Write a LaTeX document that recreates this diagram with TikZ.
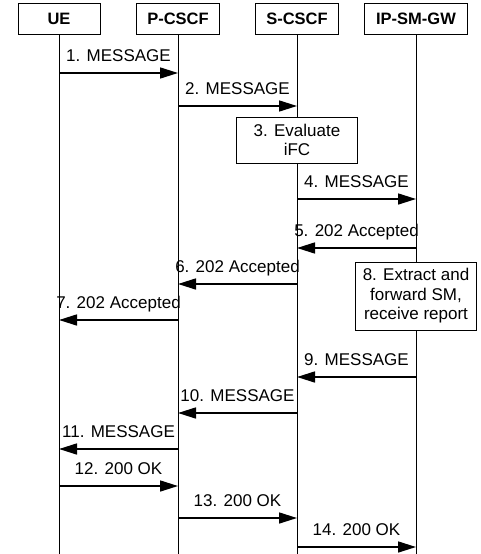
\documentclass[tikz,border=0pt]{standalone}
\usepackage{fontspec}
\setmainfont{Liberation Sans}
\usetikzlibrary{arrows.meta}
\tikzset{every picture/.style={line width=0.75pt}}
\tikzset{
	entity/.style={draw, minimum height=31pt, inner sep=0pt, font=\bfseries\fontsize{16.5}{19}\selectfont},
	msg/.style={-{Triangle[length=18pt,width=11pt]}, line width=1.6pt},
	lbl/.style={anchor=base, inner sep=0pt, yshift=12pt, font=\fontsize{17}{19.5}\selectfont},
	action/.style={draw, fill=white, align=center, minimum width=121pt, inner sep=0pt, font=\fontsize{17}{19.5}\selectfont}}

\begin{document}
\begin{tikzpicture}[x=1pt,y=1pt,yscale=-1,xscale=1]
	\useasboundingbox (0,0) rectangle (480,554);

	% Entities
	\node[entity, minimum width=82pt] (ue) at (59,18.5) {UE};
	\node[entity, minimum width=83pt] (pcscf) at (178,18.5) {P-CSCF};
	\node[entity, minimum width=83pt] (scscf) at (297,18.5) {S-CSCF};
	\node[entity, minimum width=103pt] (ipsmgw) at (416,18.5) {IP-SM-GW};

	% Lifelines
	\draw (ue.south) -- (ue.south |- 0,554);
	\draw (pcscf.south) -- (pcscf.south |- 0,554);
	\draw (scscf.south) -- (scscf.south |- 0,554);
	\draw (ipsmgw.south) -- (ipsmgw.south |- 0,554);

	% Actions
	\node[action, minimum height=46pt] (evalifc) at (297,140) {3. Evaluate\\iFC};
	\node[action, minimum height=68pt] (extract) at (416,296) {8. Extract and\\forward SM,\\receive report};

	% Messages
	\draw[msg] (ue |- 0,73) -- node[lbl] {1. MESSAGE} (pcscf |- 0,73);
	\draw[msg] (pcscf |- 0,106) -- node[lbl] {2. MESSAGE} (scscf |- 0,106);
	\draw[msg] (scscf |- 0,199) -- node[lbl] {4. MESSAGE} (ipsmgw |- 0,199);
	\draw[msg] (ipsmgw |- 0,248) -- node[lbl] {5. 202 Accepted} (scscf |- 0,248);
	\draw[msg] (scscf |- 0,284) -- node[lbl] {6. 202 Accepted} (pcscf |- 0,284);
	\draw[msg] (pcscf |- 0,320) -- node[lbl] {7. 202 Accepted} (ue |- 0,320);
	\draw[msg] (ipsmgw |- 0,377) -- node[lbl] {9. MESSAGE} (scscf |- 0,377);
	\draw[msg] (scscf |- 0,413) -- node[lbl] {10. MESSAGE} (pcscf |- 0,413);
	\draw[msg] (pcscf |- 0,449) -- node[lbl] {11. MESSAGE} (ue |- 0,449);
	\draw[msg] (ue |- 0,486) -- node[lbl] {12. 200 OK} (pcscf |- 0,486);
	\draw[msg] (pcscf |- 0,518) -- node[lbl] {13. 200 OK} (scscf |- 0,518);
	\draw[msg] (scscf |- 0,547) -- node[lbl] {14. 200 OK} (ipsmgw |- 0,547);

\end{tikzpicture}
\end{document}
